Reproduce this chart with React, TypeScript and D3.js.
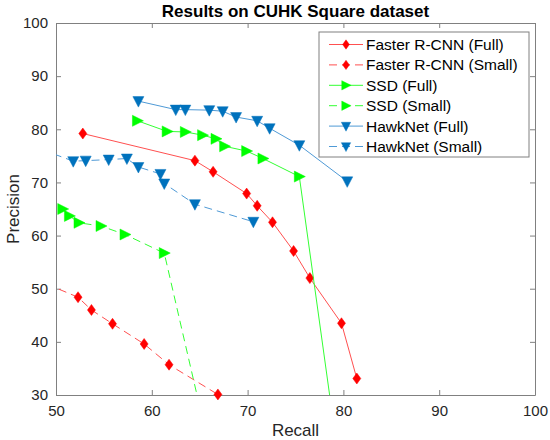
import * as d3 from 'd3';
import React, { useEffect, useRef } from 'react';

// Faster R-CNN
const frcnnFullRecall = [52.8, 64.5, 66.4, 69.9, 71.0, 72.6, 74.8, 76.5, 79.8, 81.4];
const frcnnFullPrec = [79.2, 74.1, 72.0, 67.9, 65.6, 62.5, 57.1, 52.0, 43.5, 33.1];
const frcnnSmallRecall = [47.8, 52.3, 53.7, 55.9, 59.2, 61.8, 66.9];
const frcnnSmallPrec = [51.8, 48.4, 46.0, 43.4, 39.6, 35.7, 30.1];

// SSD
const ssdFullRecall = [58.5, 61.6, 63.5, 65.3, 66.7, 67.6, 69.9, 71.6, 75.4, 80.0];
const ssdFullPrec = [81.6, 79.6, 79.5, 78.9, 78.2, 76.8, 75.9, 74.5, 71.1, 11.3];
const ssdSmallRecall = [50.7, 51.4, 52.4, 54.7, 57.2, 61.3, 66.0];
const ssdSmallPrec = [65.0, 63.7, 62.4, 61.8, 60.2, 56.7, 20.0];

// HawkNet
const hawkFullRecall = [58.6, 62.5, 63.5, 66.0, 67.4, 68.8, 71.0, 72.3, 75.4, 80.4];
const hawkFullPrec = [85.3, 83.7, 83.7, 83.6, 83.4, 82.3, 81.6, 80.2, 77.0, 70.2];
const hawkSmallRecall = [48.5, 51.8, 53.1, 55.5, 57.4, 58.6, 60.9, 61.3, 64.5, 70.6];
const hawkSmallPrec = [76.2, 74.0, 74.1, 74.3, 74.5, 72.9, 71.6, 69.8, 65.9, 62.6];

const xTicks = [50, 60, 70, 80, 90, 100];
const yTicks = [30, 40, 50, 60, 70, 80, 90, 100];

type Series = {
    name: string;
    recall: number[];
    precision: number[];
    line: string;
    fill: string;
    dashed: boolean;
    marker: 'diamond' | 'right' | 'down';
};

const series: Series[] = [
    { name: 'Faster R-CNN (Full)', recall: frcnnFullRecall, precision: frcnnFullPrec, line: '#ff5050', fill: '#ff0000', dashed: false, marker: 'diamond' },
    { name: 'Faster R-CNN (Small)', recall: frcnnSmallRecall, precision: frcnnSmallPrec, line: '#ff5050', fill: '#ff0000', dashed: true, marker: 'diamond' },
    { name: 'SSD (Full)', recall: ssdFullRecall, precision: ssdFullPrec, line: '#33ff33', fill: '#00ff00', dashed: false, marker: 'right' },
    { name: 'SSD (Small)', recall: ssdSmallRecall, precision: ssdSmallPrec, line: '#33ff33', fill: '#00ff00', dashed: true, marker: 'right' },
    { name: 'HawkNet (Full)', recall: hawkFullRecall, precision: hawkFullPrec, line: '#4f9ad6', fill: '#0072bd', dashed: false, marker: 'down' },
    { name: 'HawkNet (Small)', recall: hawkSmallRecall, precision: hawkSmallPrec, line: '#4f9ad6', fill: '#0072bd', dashed: true, marker: 'down' },
];

const FONT = '"Liberation Sans", Arial, sans-serif';

function markerPath(kind: string) {
    if (kind === 'diamond') return 'M0,-5.5L4,0L0,5.5L-4,0Z';
    if (kind === 'right') return 'M-5,-5.5L6,0L-5,5.5Z';
    return 'M-5.5,-4.5L5.5,-4.5L0,6Z';
}

function App() {
    const ref = useRef<SVGSVGElement>(null);

    useEffect(() => {
        const svg = d3.select(ref.current);
        svg.selectAll('*').remove();

        const left = 56, right = 535, top = 23, bottom = 395;
        const x = d3.scaleLinear().domain([50, 100]).range([left, right]);
        const y = d3.scaleLinear().domain([30, 100]).range([bottom, top]);
        const axisColor = '#808080';

        svg.append('rect').attr('width', 550).attr('height', 440).attr('fill', 'white');

        svg.append('defs').append('clipPath').attr('id', 'plotclip')
            .append('rect').attr('x', left).attr('y', top)
            .attr('width', right - left).attr('height', bottom - top);

        // Achsen (mit Box und Ticks nach innen)
        const xAxis = svg.append('g').attr('transform', `translate(0,${bottom})`)
            .call(d3.axisBottom(x).tickValues(xTicks).tickSizeInner(-5).tickSizeOuter(0).tickPadding(10));
        const yAxis = svg.append('g').attr('transform', `translate(${left},0)`)
            .call(d3.axisLeft(y).tickValues(yTicks).tickSizeInner(-5).tickSizeOuter(0).tickPadding(8));
        svg.append('g').attr('transform', `translate(0,${top})`)
            .call(d3.axisTop(x).tickValues(xTicks).tickSizeInner(-5).tickSizeOuter(0).tickFormat(() => ''));
        svg.append('g').attr('transform', `translate(${right},0)`)
            .call(d3.axisRight(y).tickValues(yTicks).tickSizeInner(-5).tickSizeOuter(0).tickFormat(() => ''));

        svg.selectAll('.domain, .tick line').attr('stroke', axisColor);
        [xAxis, yAxis].forEach(a => a.selectAll('text')
            .attr('font-family', FONT).attr('font-size', 15).attr('fill', '#262626'));

        const line = d3.line<[number, number]>().x(d => x(d[0])).y(d => y(d[1]));
        const plot = svg.append('g');

        series.forEach(s => {
            const pts = s.recall.map((r, i) => [r, s.precision[i]] as [number, number]);
            plot.append('path')
                .attr('d', line(pts))
                .attr('clip-path', 'url(#plotclip)')
                .attr('fill', 'none')
                .attr('stroke', s.line)
                .attr('stroke-width', 1)
                .attr('stroke-dasharray', s.dashed ? '8,5' : null);
            plot.selectAll(null)
                .data(pts.filter(p => p[0] >= 50 && p[0] <= 100 && p[1] >= 30 && p[1] <= 100))
                .enter()
                .append('path')
                .attr('d', markerPath(s.marker))
                .attr('transform', d => `translate(${x(d[0])},${y(d[1])})`)
                .attr('fill', s.fill)
                .attr('stroke', s.fill)
                .attr('stroke-width', 0.5);
        });

        // Titel und Achsenbeschriftung
        svg.append('text').attr('x', (left + right) / 2).attr('y', 17)
            .attr('text-anchor', 'middle').attr('font-family', FONT)
            .attr('font-size', 17).attr('font-weight', 'bold').attr('fill', '#000')
            .text('Results on CUHK Square dataset');
        svg.append('text').attr('x', (left + right) / 2).attr('y', 436)
            .attr('text-anchor', 'middle').attr('font-family', FONT)
            .attr('font-size', 17).attr('fill', '#262626').text('Recall');
        svg.append('text').attr('transform', `translate(19,${(top + bottom) / 2}) rotate(-90)`)
            .attr('text-anchor', 'middle').attr('font-family', FONT)
            .attr('font-size', 17).attr('fill', '#262626').text('Precision');

        // Legende
        const lg = svg.append('g').attr('transform', 'translate(319,32)');
        lg.append('rect').attr('width', 210).attr('height', 125)
            .attr('fill', 'white').attr('stroke', axisColor).attr('stroke-width', 1);
        series.forEach((s, i) => {
            const row = lg.append('g').attr('transform', `translate(0,${12.5 + i * 20.4})`);
            row.append('line').attr('x1', 10).attr('x2', 44).attr('y1', 0).attr('y2', 0)
                .attr('stroke', s.line).attr('stroke-width', 1)
                .attr('stroke-dasharray', s.dashed ? '8,5' : null);
            row.append('path').attr('d', markerPath(s.marker))
                .attr('transform', 'translate(27,0) scale(0.85)')
                .attr('fill', s.fill).attr('stroke', s.fill).attr('stroke-width', 0.5);
            row.append('text').attr('x', 47).attr('y', 5.5)
                .attr('font-family', FONT).attr('font-size', 15.5).attr('fill', '#000')
                .text(s.name);
        });
    }, []);

    return (
        <svg ref={ref} width={550} height={440} style={{ position: 'absolute', left: 0, top: 0 }}></svg>
    );
}

export default App;
